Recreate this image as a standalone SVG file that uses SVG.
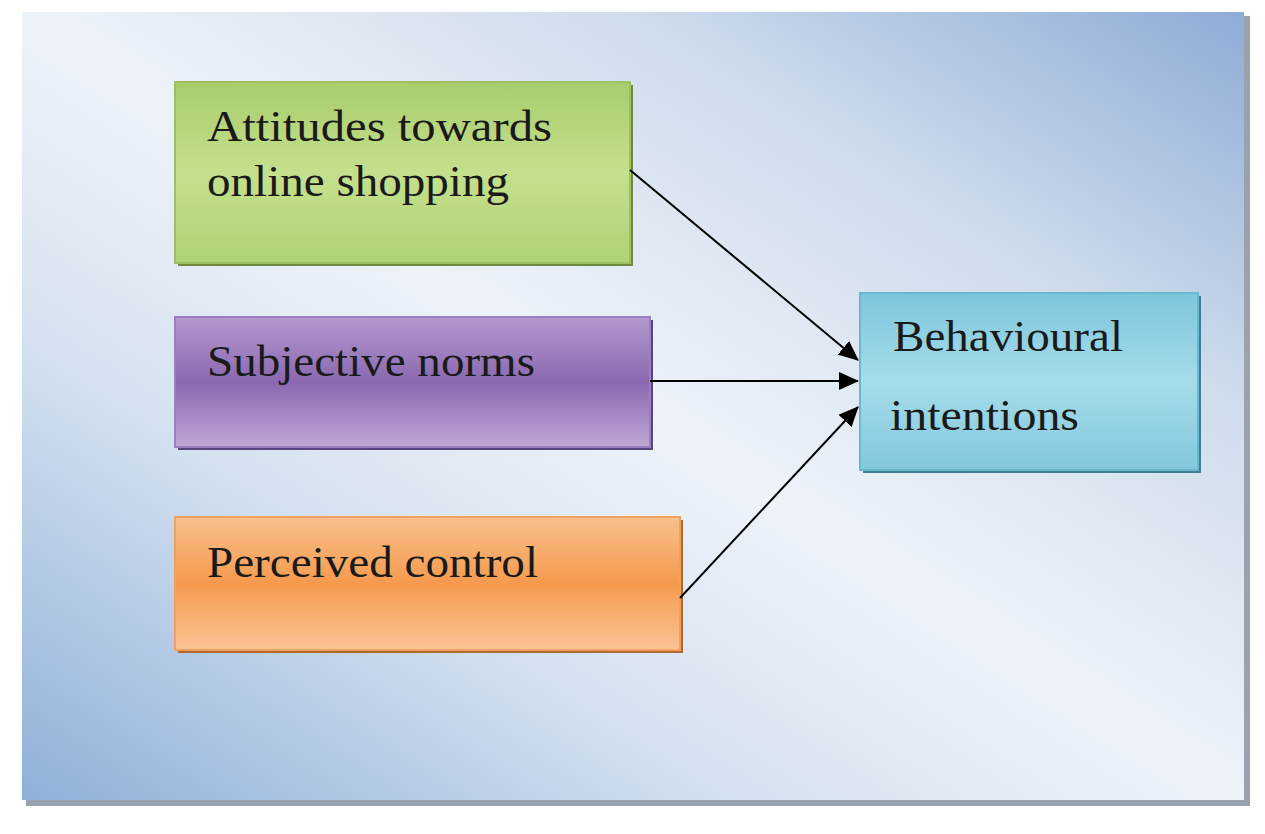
<svg xmlns="http://www.w3.org/2000/svg" width="1265" height="834" viewBox="0 0 1265 834">
<defs>
<linearGradient id="bg" x1="0" y1="1" x2="1" y2="0">
<stop offset="0" stop-color="#8fb0d8"/><stop offset="0.3" stop-color="#d6e2f0"/><stop offset="0.5" stop-color="#eef3f9"/><stop offset="0.75" stop-color="#cfdcec"/><stop offset="1" stop-color="#8eacd6"/>
</linearGradient>
<linearGradient id="g" x1="0" y1="0" x2="0" y2="1"><stop offset="0" stop-color="#a9cc6c"/><stop offset="0.5" stop-color="#c5e08c"/><stop offset="1" stop-color="#b0d175"/></linearGradient>
<linearGradient id="p" x1="0" y1="0" x2="0" y2="1"><stop offset="0" stop-color="#b49ad0"/><stop offset="0.5" stop-color="#8a68b0"/><stop offset="1" stop-color="#c0a8d8"/></linearGradient>
<linearGradient id="o" x1="0" y1="0" x2="0" y2="1"><stop offset="0" stop-color="#f9c08c"/><stop offset="0.5" stop-color="#f59a4e"/><stop offset="1" stop-color="#fbc495"/></linearGradient>
<linearGradient id="t" x1="0" y1="0" x2="0" y2="1"><stop offset="0" stop-color="#7cc6dc"/><stop offset="0.5" stop-color="#a6dcea"/><stop offset="1" stop-color="#82c8dd"/></linearGradient>
<marker id="ah" markerWidth="20" markerHeight="18" refX="19" refY="9" orient="auto" markerUnits="userSpaceOnUse" viewBox="0 0 20 18"><path d="M0,0 L20,9 L0,18 z" fill="#000"/></marker>
<style>
.txt{font-family:"Liberation Serif",serif;font-size:44px;fill:#1a1a1a}
.box{stroke-width:2}
.c{stroke:#000;stroke-width:2;fill:none;marker-end:url(#ah)}
</style>
</defs>
<rect x="0" y="0" width="1265" height="834" fill="#fff"/>
<rect x="26" y="16" width="1224" height="790" fill="#9aa3ad"/>
<rect x="22" y="12" width="1222" height="788" fill="url(#bg)"/>
<g id="n1"><rect x="178" y="85" width="455" height="181" fill="#6f8a3c"/><rect class="box" x="175" y="82" width="455" height="181" fill="url(#g)" stroke="#9fbf66"/>
<text class="txt" x="207" y="141" textLength="345" lengthAdjust="spacingAndGlyphs">Attitudes towards</text><text class="txt" x="207" y="196" textLength="302" lengthAdjust="spacingAndGlyphs">online shopping</text></g>
<g id="n2"><rect x="178" y="320" width="475" height="130" fill="#5a4480"/><rect class="box" x="175" y="317" width="475" height="130" fill="url(#p)" stroke="#9a80c0"/>
<text class="txt" x="207" y="376" textLength="328" lengthAdjust="spacingAndGlyphs">Subjective norms</text></g>
<g id="n3"><rect x="178" y="520" width="505" height="133" fill="#b06a30"/><rect class="box" x="175" y="517" width="505" height="133" fill="url(#o)" stroke="#f0a060"/>
<text class="txt" x="207" y="577" textLength="331" lengthAdjust="spacingAndGlyphs">Perceived control</text></g>
<g id="n4"><rect x="863" y="296" width="338" height="177" fill="#3e7f92"/><rect class="box" x="860" y="293" width="338" height="177" fill="url(#t)" stroke="#6ab8d0"/>
<text class="txt" x="893" y="351" textLength="230" lengthAdjust="spacingAndGlyphs">Behavioural</text><text class="txt" x="890" y="430" textLength="189" lengthAdjust="spacingAndGlyphs">intentions</text></g>
<g id="connectors">
<line class="c" x1="630" y1="170" x2="858" y2="360"/>
<line class="c" x1="650" y1="381" x2="858" y2="381"/>
<line class="c" x1="680" y1="598" x2="858" y2="407"/>
</g>
</svg>
